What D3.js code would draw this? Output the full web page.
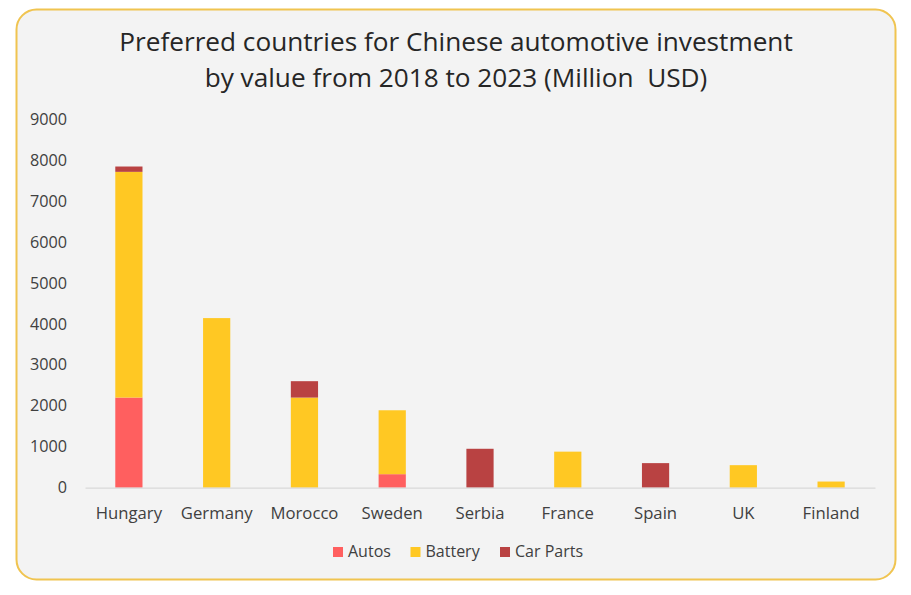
<!DOCTYPE html>
<html><head><meta charset="utf-8">
<script src="https://cdn.jsdelivr.net/npm/d3@7"></script>
<style>body{margin:0;background:#fff;}svg{display:block;font-family:"Open Sans","Noto Sans",sans-serif;}</style>
</head><body>
<svg id="c" width="911" height="595"></svg>
<script>
const countries = ["Hungary","Germany","Morocco","Sweden","Serbia","France","Spain","UK","Finland"];
const seriesNames = ["Autos","Battery","Car Parts"];
const autos    = [2200, 0, 0, 330, 0, 0, 0, 0, 0];
const battery  = [5510, 4140, 2200, 1560, 0, 880, 0, 550, 150];
const carParts = [130, 0, 400, 0, 950, 0, 600, 0, 0];
const colors = ["#ff5f5f","#ffc823","#b94242"];
const yTicks = [0,1000,2000,3000,4000,5000,6000,7000,8000,9000];
const titleLines = ["Preferred countries for Chinese automotive investment","by value from 2018 to 2023 (Million\u00a0 USD)"];

const svg = d3.select("#c");
svg.append("rect").attr("x",16.5).attr("y",9.5).attr("width",879).attr("height",570)
  .attr("rx",20).attr("fill","#f3f3f3").attr("stroke","#f0c450").attr("stroke-width",2);

svg.append("text").attr("text-anchor","middle").attr("fill","#262626").attr("font-size",26.2)
  .selectAll("tspan").data(titleLines).join("tspan")
  .attr("x",456).attr("y",(d,i)=>51+i*36).text(d=>d);

const x = d3.scaleBand().domain(countries).range([85,875]).paddingInner(0.69).paddingOuter(0.345);
const y = d3.scaleLinear().domain([0,9000]).range([487.7,119]);

const table = countries.map((c,i)=>({country:c,"Autos":autos[i],"Battery":battery[i],"Car Parts":carParts[i]}));
const stacked = d3.stack().keys(seriesNames)(table);

svg.append("g").selectAll("g").data(stacked).join("g").attr("fill",(d,i)=>colors[i])
  .selectAll("rect").data(d=>d).join("rect")
  .attr("x",d=>x(d.data.country)).attr("width",x.bandwidth())
  .attr("y",d=>y(d[1])).attr("height",d=>y(d[0])-y(d[1]));

const yAxis = svg.append("g").attr("transform","translate(67,0)")
  .call(d3.axisLeft(y).tickValues(yTicks).tickSize(0).tickPadding(0).tickFormat(d3.format("d")));
yAxis.select(".domain").remove();
yAxis.selectAll("text").attr("font-size",16.2).attr("fill","#404040").attr("font-family","'Open Sans','Noto Sans',sans-serif");

const xAxis = svg.append("g").attr("transform","translate(0,487.7)")
  .call(d3.axisBottom(x).tickSize(0).tickPadding(19));
xAxis.select(".domain").attr("stroke","#d9d9d9").attr("stroke-width",1.3);
xAxis.selectAll("text").attr("font-size",16.7).attr("fill","#404040").attr("font-family","'Open Sans','Noto Sans',sans-serif");

const legendX = [333,410.5,500];
const lg = svg.append("g").selectAll("g").data(seriesNames).join("g")
  .attr("transform",(d,i)=>`translate(${legendX[i]},547)`);
lg.append("rect").attr("width",10).attr("height",10).attr("fill",(d,i)=>colors[i]);
lg.append("text").attr("x",15).attr("y",10).attr("font-size",16).attr("fill","#404040").text(d=>d);
</script>
</body></html>
